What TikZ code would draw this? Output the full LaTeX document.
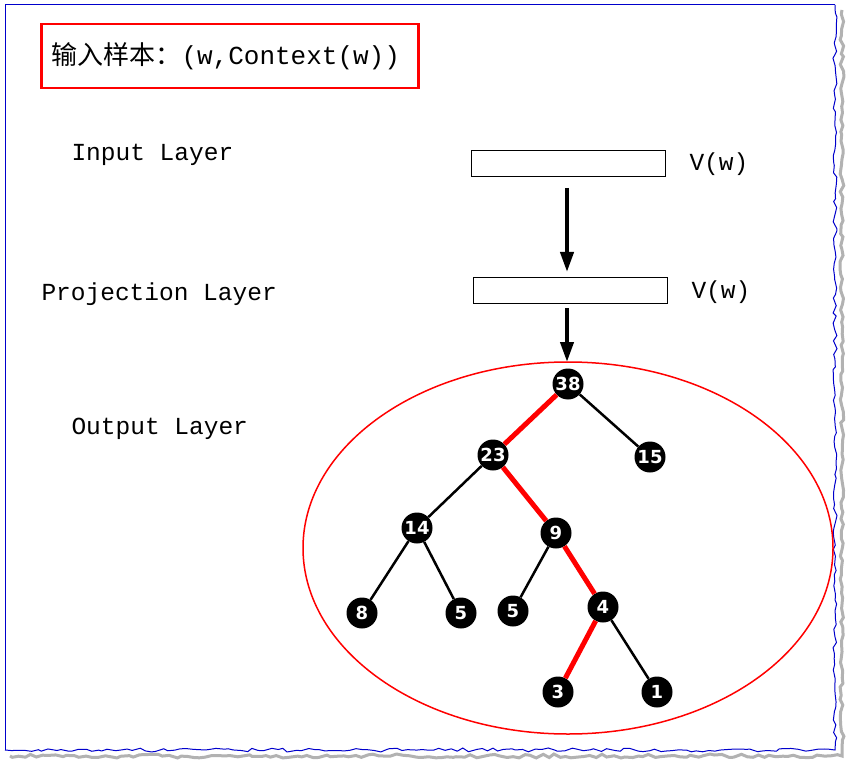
\documentclass[tikz,border=0pt]{standalone}
\usepackage{fontspec}
\setmainfont{Liberation Mono}
\newfontfamily\cjk{Noto Sans CJK SC}
\newfontfamily\numf{DejaVu Sans}
\usetikzlibrary{decorations.pathmorphing,arrows.meta}
\begin{document}
\begin{tikzpicture}[x=1pt,y=-1pt,
  tn/.style={circle,fill=black,minimum size=31pt,inner sep=0pt,text=white,font=\numf\bfseries\fontsize{18}{18}\selectfont},
  lbl/.style={anchor=west,font=\fontsize{24.5}{24.5}\selectfont},
  blk/.style={line width=2.5pt},
  red/.style={draw=red,line width=5pt},
  bar/.style={draw,line width=1pt,minimum width=194pt,minimum height=26pt,inner sep=0pt},
  arr/.style={line width=4pt,-{Triangle[length=20pt,width=13pt]}}]
\useasboundingbox (0,0) rectangle (856,767);
\fill[white] (0,0) rectangle (856,767);
% frame
\draw[gray!60,line width=3pt,decorate,decoration={random steps,segment length=6pt,amplitude=2pt}] (842,10) -- (842,756) -- (10,756);
\draw[blue!80!black,line width=1pt,decorate,decoration={random steps,segment length=6pt,amplitude=2pt}] (835,5) -- (835,750) -- (5,750);
\draw[blue!80!black,line width=1pt] (5,750) -- (5,5) -- (835,5);
% title
\node[draw=red,line width=2.5pt,minimum width=377pt,minimum height=64pt,anchor=north west] (title) at (40,23) {};
\node[anchor=west,font=\fontsize{26}{26}\selectfont] (tt) at (48,56) {{\cjk 输入样本：}(w,Context(w))};
% layers
\node[lbl] (il) at (68,155) {Input Layer};
\node[lbl] (pl) at (38,294) {Projection Layer};
\node[lbl] (ol) at (68,429) {Output Layer};
\node[bar] (ib) at (568,164) {};
\node[bar] (pb) at (570,290) {};
\node[lbl] (v1) at (686,164) {V(w)};
\node[lbl] (v2) at (688,292) {V(w)};
\coordinate (a1) at (567,188);
\coordinate (a2) at (567,272);
\coordinate (a3) at (567,308);
\coordinate (a4) at (567,362);
\draw[arr] (a1) -- (a2);
\draw[arr] (a3) -- (a4);
\draw[red,line width=1.5pt] (568,548) ellipse (265 and 186);
% tree
\node[tn] (n38) at (568,384) {38};
\node[tn] (n23) at (493,455) {23};
\node[tn] (n15) at (650,457) {15};
\node[tn] (n14) at (417,528) {14};
\node[tn] (n9) at (556,533) {9};
\node[tn] (n8) at (362,613) {8};
\node[tn] (n5a) at (461,613) {5};
\node[tn] (n5b) at (513,611) {5};
\node[tn] (n4) at (603,607) {4};
\node[tn] (n3) at (558,692) {3};
\node[tn] (n1) at (657,692) {1};
\draw[blk] (n38) -- (n15);
\draw[blk] (n23) -- (n14);
\draw[blk] (n14) -- (n8);
\draw[blk] (n14) -- (n5a);
\draw[blk] (n9) -- (n5b);
\draw[blk] (n4) -- (n1);
\draw[red] (n38) -- (n23);
\draw[red] (n23) -- (n9);
\draw[red] (n9) -- (n4);
\draw[red] (n4) -- (n3);
\end{tikzpicture}
\end{document}
